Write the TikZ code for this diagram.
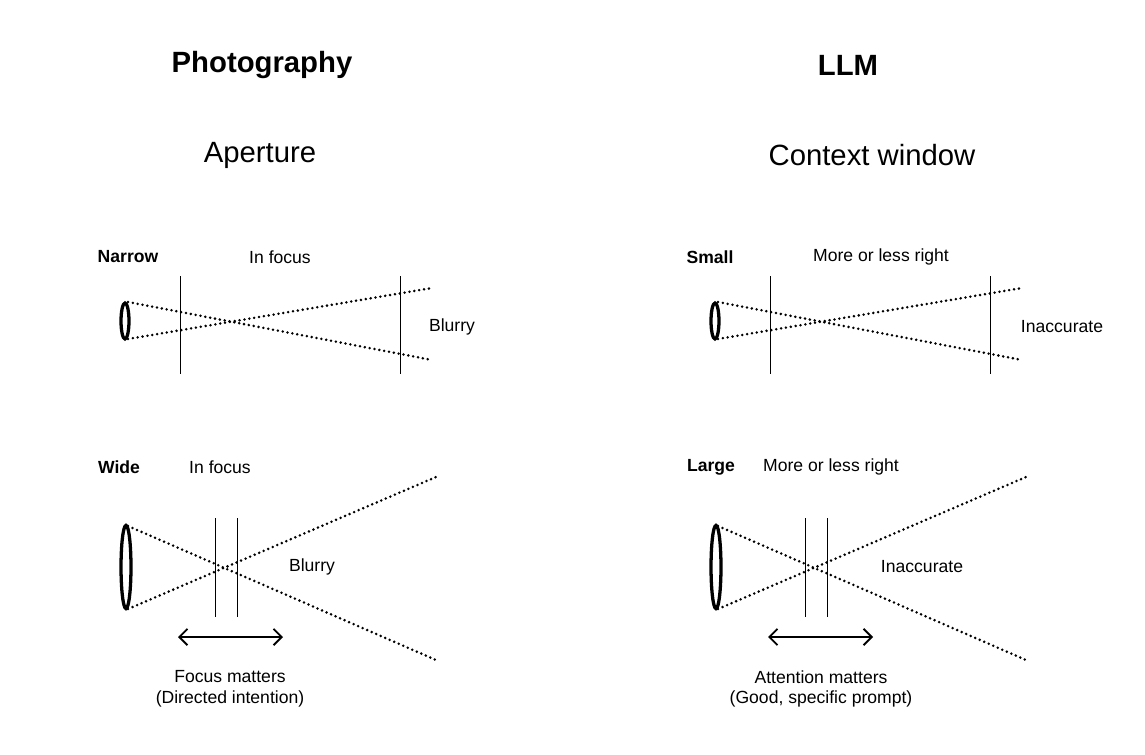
\documentclass[tikz,border=0pt]{standalone}
\usepackage{fontspec}
\setmainfont{Liberation Sans}
\usetikzlibrary{arrows.meta,shapes.geometric}
\begin{document}
\begin{tikzpicture}[x=0.03cm,y=-0.03cm,
 ray/.style={line width=2.4pt,dash pattern=on 0pt off 4.2pt,line cap=round},
 lens/.style={draw,ellipse,inner sep=0pt,line width=2.8pt},
 plane/.style={line width=0.8pt},
 lbl/.style={font=\fontsize{15}{18}\selectfont},
 blbl/.style={font=\fontsize{15}{18}\selectfont\bfseries},
 title/.style={font=\fontsize{25}{30}\selectfont\bfseries},
 sub/.style={font=\fontsize{25}{30}\selectfont},
 dbl/.style={{Straight Barb[length=7pt]}-{Straight Barb[length=7pt]},line width=1.6pt}]
\useasboundingbox (0,0) rectangle (1145,754);
\node[title] (t1) at (262,65) {Photography};
\node[title] (t2) at (848,65) {LLM};
\node[sub] (s1) at (260,155) {Aperture};
\node[sub] (s2) at (872,155) {Context window};
\foreach \dx/\sm/\lg/\mid/\bl/\lbA/\lbB/\foc/\focb/\ta/\tb/\xa/\xb/\xc in
 {0/{Narrow}/{Wide}/{In focus}/{Blurry}/128/119/280/220/{Focus matters}/{(Directed intention)}/452/312/230,
  590/{Small}/{Large}/{More or less right}/{Inaccurate}/120/121/291/241/{Attention matters}/{(Good, specific prompt)}/472/332/231}{
 \begin{scope}[xshift=\dx*0.03cm]
 \node[lens,minimum width=6.8pt,minimum height=30.6pt] (L1) at (125,321) {};
 \coordinate (a1) at (128,302); \coordinate (b1) at (128,339);
 \coordinate (c1) at (432,360); \coordinate (d1) at (432,288);
 \draw[ray] (a1) -- (c1); \draw[ray] (b1) -- (d1);
 \draw[plane] (180,276) coordinate (p1) -- (180,374) coordinate (p2);
 \draw[plane] (400,276) coordinate (p3) -- (400,374) coordinate (p4);
 \node[blbl] (n1) at (\lbA,257) {\sm};
 \node[lbl] (n2) at (\foc,257) {\mid};
 \node[lbl] (n3) at (\xa,327) {\bl};
 \node[lens,minimum width=8.5pt,minimum height=71pt] (L2) at (126,567) {};
 \coordinate (a2) at (128,526); \coordinate (b2) at (128,609);
 \coordinate (c2) at (436,660); \coordinate (d2) at (436,477);
 \draw[ray] (a2) -- (c2); \draw[ray] (b2) -- (d2);
 \draw[plane] (215,518) coordinate (q1) -- (215,617) coordinate (q2);
 \draw[plane] (237,518) coordinate (q3) -- (237,617) coordinate (q4);
 \coordinate (e1) at (178,637); \coordinate (e2) at (283,637);
 \draw[dbl] (e1) -- (e2);
 \node[blbl] (n4) at (\lbB,467) {\lg};
 \node[lbl] (n5) at (\focb,467) {\mid};
 \node[lbl] (n6) at (\xb,567) {\bl};
 \node[lbl] (n7) at (\xc,677) {\ta};
 \node[lbl] (n8) at (\xc,699) {\tb};
 \end{scope}}
\end{tikzpicture}
\end{document}
